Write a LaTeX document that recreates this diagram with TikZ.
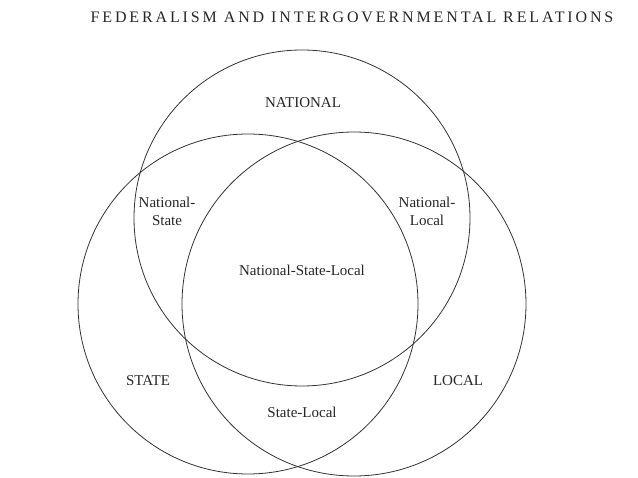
\documentclass[tikz,border=0pt]{standalone}
\usepackage{fontspec}
\setmainfont{Liberation Serif}
\begin{document}
\begin{tikzpicture}[x=1pt,y=-1pt,
  circ/.style={draw=black!80,line width=0.8pt},
  lbl/.style={font=\fontsize{15}{18}\selectfont,align=center,text=black!85}]
\useasboundingbox (0,0) rectangle (638,478);
\draw[circ] (302,218) circle (168);
\draw[circ] (248,304) circle (170);
\draw[circ] (354,304) circle (172);
\node[lbl] (title) at (352,17) {\fontsize{16}{18}\selectfont\addfontfeatures{LetterSpace=18}FEDERALISM AND INTERGOVERNMENTAL RELATIONS};
\node[lbl] (n) at (303,103) {NATIONAL};
\node[lbl] (ns) at (167,211) {National-\\State};
\node[lbl] (nl) at (427,211) {National-\\Local};
\node[lbl] (nsl) at (302,270) {National-State-Local};
\node[lbl] (s) at (148,381) {STATE};
\node[lbl] (l) at (458,381) {LOCAL};
\node[lbl] (sl) at (302,412) {State-Local};
\end{tikzpicture}
\end{document}
